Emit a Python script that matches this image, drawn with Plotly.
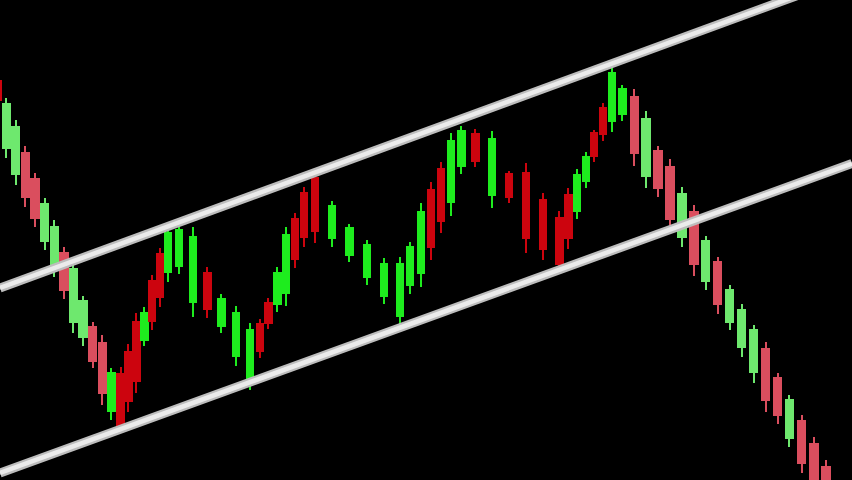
import plotly.graph_objects as go

# Time position of each session (arbitrary time units)
t = [-3, 6.3, 15.7, 25.3, 35, 44.7, 54.3, 64, 73.3, 83, 92.7, 102.3, 111.3, 120.5,
     128.3, 136.3, 144.3, 152, 159.7, 167.7, 178.7, 193, 207.3, 221.3, 236, 250,
     259.7, 268.3, 277.3, 286, 295, 303.7, 315, 331.7, 349.3, 366.7, 384, 400, 410,
     420.7, 430.7, 441, 451, 461.3, 475.3, 492, 509, 526, 542.7, 559.3, 568.3, 576.7,
     585.7, 594, 603, 611.7, 622.3, 634.3, 646, 658, 670, 682, 694, 705.7, 717.7,
     729.7, 741.7, 753.7, 765.7, 777.7, 789.3, 801.7, 814, 826]

# Prices (OHLC)
open_ = [400, 331, 305, 328, 302, 238, 213, 228, 157, 142, 154, 138, 68, 107,
         129, 159, 139, 200, 227, 207, 213, 177, 208, 153, 123, 98,
         157, 178, 175, 186, 262, 288, 303, 241, 224, 202, 183, 163, 194,
         206, 291, 312, 277, 313, 347, 284, 307, 308, 281, 263, 286, 268,
         298, 348, 373, 358, 365, 384, 303, 330, 314, 242, 269, 198, 219,
         157, 132, 107, 132, 103, 41, 60, 37, 14]
close = [379, 377, 354, 282, 261, 277, 254, 189, 212, 180, 118, 86, 108, 53,
         78, 98, 168, 158, 182, 248, 251, 244, 170, 182, 168, 151,
         128, 156, 208, 246, 220, 242, 248, 275, 253, 236, 217, 217, 234,
         269, 232, 258, 340, 350, 318, 342, 282, 241, 230, 215, 241, 306,
         324, 323, 345, 408, 392, 326, 362, 291, 260, 287, 215, 240, 175,
         191, 171, 151, 79, 64, 81, 16, -10, -30]
high = [406, 382, 360, 334, 307, 282, 260, 233, 216, 184, 158, 145, 112, 113,
        136, 167, 173, 205, 232, 251, 253, 253, 213, 186, 174, 157,
        161, 182, 213, 253, 267, 293, 305, 279, 256, 240, 222, 223, 238,
        277, 298, 318, 347, 354, 351, 349, 309, 317, 287, 269, 292, 311,
        328, 350, 377, 412, 395, 391, 369, 334, 321, 293, 275, 244, 223,
        195, 176, 155, 138, 107, 85, 65, 43, 20]
low = [373, 322, 295, 273, 253, 230, 203, 181, 147, 134, 112, 75, 60, 50,
       68, 87, 134, 150, 173, 198, 206, 163, 162, 147, 114, 90,
       122, 151, 168, 174, 212, 233, 237, 233, 218, 195, 176, 153, 186,
       193, 220, 247, 264, 306, 313, 272, 277, 227, 220, 213, 231, 261,
       292, 318, 339, 348, 359, 314, 292, 283, 255, 233, 204, 190, 166,
       150, 123, 97, 68, 56, 33, 7, -20, -40]

# Price channel (two parallel trend lines), endpoints as (t, price)
channel_t = [0, 852]
upper_price = [192, 504.5]
lower_price = [7, 316.5]

GREEN, GREEN_SOFT = "rgb(30,236,30)", "rgb(110,232,110)"
RED, RED_SOFT = "rgb(204,4,14)", "rgb(218,78,94)"


def candle_color(ti, o, c):
    soft = ti > 0 and (ti < 108 or ti > 628)
    if c >= o:
        return GREEN_SOFT if soft else GREEN
    return RED_SOFT if soft else RED


colors = [candle_color(ti, o, c) for ti, o, c in zip(t, open_, close)]
body_w = [9.3 if (ti < 108 or ti > 628) else 8.4 for ti in t]

fig = go.Figure()
# wicks
fig.add_trace(go.Bar(
    x=t, base=low, y=[h - l for h, l in zip(high, low)], width=2.0,
    marker=dict(color=colors, line=dict(width=0)), hoverinfo="skip"))
# bodies
fig.add_trace(go.Bar(
    x=t, base=[min(o, c) for o, c in zip(open_, close)],
    y=[abs(c - o) for o, c in zip(open_, close)], width=body_w,
    marker=dict(color=colors, line=dict(width=0)), hoverinfo="skip"))

for prices in (upper_price, lower_price):
    fig.add_trace(go.Scatter(x=channel_t, y=prices, mode="lines",
                             line=dict(color="#bdbdbd", width=9), hoverinfo="skip"))
    fig.add_trace(go.Scatter(x=channel_t, y=prices, mode="lines",
                             line=dict(color="#ebebeb", width=4.5), hoverinfo="skip"))

fig.update_layout(
    width=852, height=480, margin=dict(l=0, r=0, t=0, b=0),
    paper_bgcolor="black", plot_bgcolor="black", showlegend=False,
    barmode="overlay", bargap=0,
    xaxis=dict(range=[0, 852], visible=False, fixedrange=True),
    yaxis=dict(range=[0, 480], visible=False, fixedrange=True),
)

fig.write_html(
    "out.html",
    config={"displayModeBar": False},
    post_script="document.body.style.margin='0';document.body.style.overflow='hidden';"
                "document.body.style.background='black';",
)
